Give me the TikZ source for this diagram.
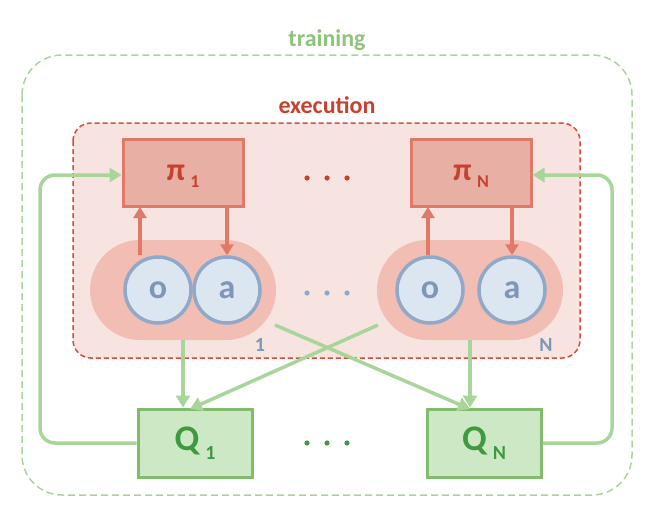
\documentclass[tikz,border=0pt]{standalone}
\usepackage{fontspec}
\setmainfont{Carlito}
\usetikzlibrary{arrows.meta}
\definecolor{gline}{HTML}{A8D69A}
\definecolor{gdark}{HTML}{82BA6E}
\definecolor{gfill}{HTML}{CDE8C4}
\definecolor{gtext}{HTML}{3F9A3F}
\definecolor{gtitle}{HTML}{8CC47A}
\definecolor{rline}{HTML}{E07A68}
\definecolor{rdash}{HTML}{D94A3A}
\definecolor{rfill}{HTML}{F7E3E0}
\definecolor{pfill}{HTML}{F2BDB2}
\definecolor{bfill}{HTML}{E8B0A4}
\definecolor{rtext}{HTML}{C8412E}
\definecolor{cfill}{HTML}{DCE6F0}
\definecolor{cline}{HTML}{91A9C9}
\definecolor{ctext}{HTML}{7F96B8}
\newcommand{\tdots}[1]{\tikz[baseline]{\foreach \i in {0,1,2} \fill[#1] (\i*20pt,0) circle (2.6pt);}}
\begin{document}
\begin{tikzpicture}[x=1pt,y=-1pt,
  pi/.style={draw=rline,line width=3pt,fill=bfill,minimum width=120pt,minimum height=67pt,inner sep=0},
  qb/.style={draw=gdark,line width=3pt,fill=gfill,minimum width=114pt,minimum height=68pt,inner sep=0},
  obs/.style={circle,draw=cline,line width=3.5pt,fill=cfill,minimum size=66pt,inner sep=0,text=ctext,font=\fontsize{34}{34}\selectfont\bfseries},
  pill/.style={draw=none,fill=pfill,rounded corners=50pt,minimum width=186pt,minimum height=100pt},
  rarr/.style={draw=rline,line width=3.5pt,-{Triangle[length=11pt,width=13pt]}},
  garr/.style={draw=gline,line width=3.5pt,-{Triangle[length=12pt,width=14pt]}}]
\useasboundingbox (0,0) rectangle (671,509);
\draw[gline,line width=1.5pt,dash pattern=on 7pt off 4pt,rounded corners=40pt] (22,55) rectangle (632,495);
\node[text=gtitle,font=\fontsize{24}{24}\selectfont\bfseries] (tr) at (327,40) {training};
\draw[rdash,fill=rfill,line width=1.5pt,dash pattern=on 5pt off 3pt,rounded corners=18pt] (73,123) rectangle (580,358);
\node[text=rtext,font=\fontsize{24}{24}\selectfont\bfseries] (ex) at (327,105) {execution};
\node[pi] (p1) at (183,173) {};
\node[text=rtext,font=\fontsize{32}{32}\selectfont\bfseries] at (183,176) {π\,\raisebox{-7pt}{\fontsize{18}{18}\selectfont 1}};
\node[pi] (pN) at (471,173) {};
\node[text=rtext,font=\fontsize{32}{32}\selectfont\bfseries] at (471,176) {π\,\raisebox{-7pt}{\fontsize{18}{18}\selectfont N}};
\node (d1) at (327,178) {\tdots{rtext}};
\node[pill] (s1) at (183,290) {};
\node[pill] (sN) at (470,290) {};
\node[obs] (o1) at (158,290) {o};
\node[obs] (a1) at (227,290) {a};
\node[obs] (oN) at (430,290) {o};
\node[obs] (aN) at (512,290) {a};
\node[text=ctext,font=\fontsize{20}{20}\selectfont\bfseries] (l1) at (260,345) {1};
\node[text=ctext,font=\fontsize{20}{20}\selectfont\bfseries] (lN) at (546,345) {N};
\node (d2) at (327,293) {\tdots{cline}};
\node[qb] (q1) at (195,443) {};
\node[text=gtext,font=\fontsize{36}{36}\selectfont\bfseries] at (195,443) {Q\,\raisebox{-9pt}{\fontsize{20}{20}\selectfont 1}};
\node[qb] (qN) at (484,443) {};
\node[text=gtext,font=\fontsize{36}{36}\selectfont\bfseries] at (484,443) {Q\,\raisebox{-9pt}{\fontsize{20}{20}\selectfont N}};
\node (d3) at (327,443) {\tdots{gtext}};
\draw[rarr] (o1.north -| 140,0) -- (140,207);
\draw[rarr] (227,207) -- (a1.north);
\draw[rarr] (oN.north -| 428,0) -- (428,207);
\draw[rarr] (512,207) -- (aN.north);
\draw[garr,rounded corners=15pt] (q1.west) -- (40,443) -- (40,175) -- (p1.west |- 0,175);
\draw[garr,rounded corners=15pt] (qN.east) -- (612,443) -- (612,175) -- (pN.east |- 0,175);
\draw[garr] (183,340) -- (q1.north -| 183,0);
\draw[garr] (470,340) -- (qN.north -| 470,0);
\draw[garr] (275,325) -- (470,409);
\draw[garr] (378,325) -- (190,409);
\end{tikzpicture}
\end{document}
